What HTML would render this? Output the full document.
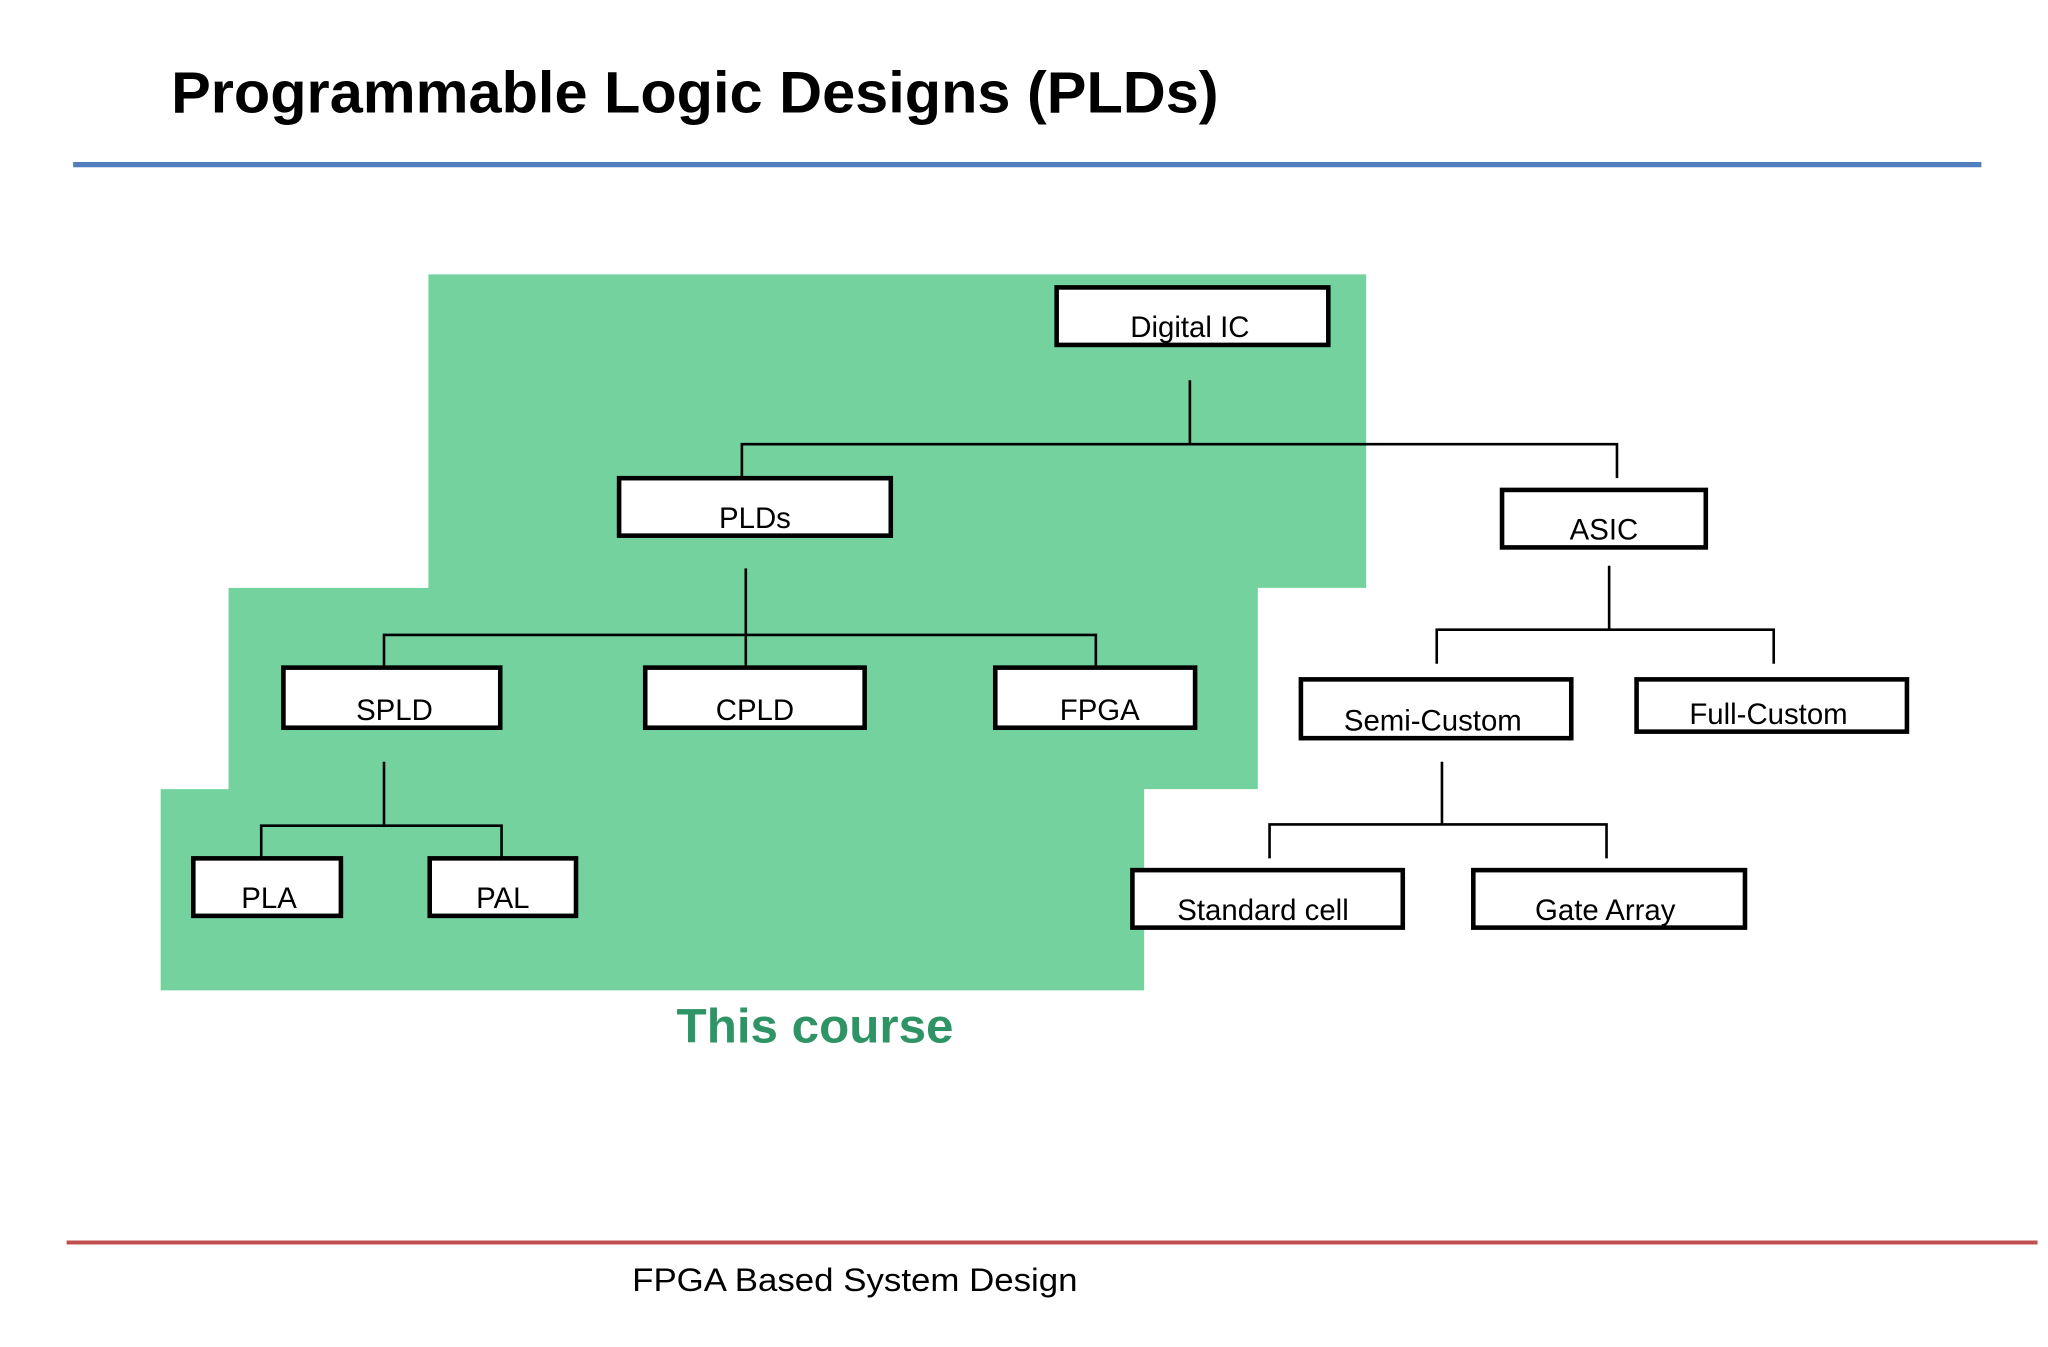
<!DOCTYPE html>
<html><head><meta charset="utf-8"><style>
html,body{margin:0;padding:0;background:#fff;}
svg{display:block;}
text{font-family:"Liberation Sans",Arial,sans-serif;}
</style></head><body>
<svg width="2048" height="1347" viewBox="0 0 1568 1031" preserveAspectRatio="none" xmlns="http://www.w3.org/2000/svg">
<rect width="1568" height="1031" fill="#fff"/>
<text x="131" y="86" font-size="45" font-weight="bold" fill="#000" textLength="802" lengthAdjust="spacingAndGlyphs">Programmable Logic Designs (PLDs)</text>
<line x1="56" y1="126" x2="1517" y2="126" stroke="#4f7fbf" stroke-width="4"/>
<polygon points="328,210 1046,210 1046,450 963,450 963,604 876,604 876,758 123,758 123,604 175,604 175,450 328,450" fill="#74d29f"/>
<g stroke="#000" stroke-width="2" fill="none">
<path d="M911 291V340M568 366V340H1238V366"/>
<path d="M571 435V511M294 511V486H839V511"/>
<path d="M1232 433V482M1100 508V482H1358V508"/>
<path d="M294 583V632M200 657V632H384V657"/>
<path d="M1104 583V631M972 657V631H1230V657"/>
</g>
<g stroke="#000" stroke-width="3.5" fill="#fff">
<rect x="809" y="220" width="208" height="44"/>
<rect x="474" y="366" width="208" height="44"/>
<rect x="1150" y="375" width="156" height="44"/>
<rect x="217" y="511" width="166" height="46"/>
<rect x="494" y="511" width="168" height="46"/>
<rect x="762" y="511" width="153" height="46"/>
<rect x="996" y="520" width="207" height="45"/>
<rect x="1253" y="520" width="207" height="40"/>
<rect x="148" y="657" width="113" height="44"/>
<rect x="329" y="657" width="112" height="44"/>
<rect x="867" y="666" width="207" height="44"/>
<rect x="1128" y="666" width="208" height="44"/>
</g>
<g font-size="22.5" fill="#000" text-anchor="middle">
<text x="911" y="258">Digital IC</text>
<text x="578" y="404">PLDs</text>
<text x="1228" y="413">ASIC</text>
<text x="302" y="551">SPLD</text>
<text x="578" y="551">CPLD</text>
<text x="842" y="551">FPGA</text>
<text x="1097" y="559">Semi-Custom</text>
<text x="1354" y="554">Full-Custom</text>
<text x="206" y="695">PLA</text>
<text x="385" y="695">PAL</text>
<text x="967" y="704">Standard cell</text>
<text x="1229" y="704">Gate Array</text>
</g>
<text x="518" y="798" font-size="37" font-weight="bold" fill="#2e9466" textLength="212" lengthAdjust="spacingAndGlyphs">This course</text>
<line x1="51" y1="951" x2="1560" y2="951" stroke="#c0504d" stroke-width="3"/>
<text x="484" y="988" font-size="25" fill="#000" textLength="341" lengthAdjust="spacingAndGlyphs">FPGA Based System Design</text>
</svg>
</body></html>
